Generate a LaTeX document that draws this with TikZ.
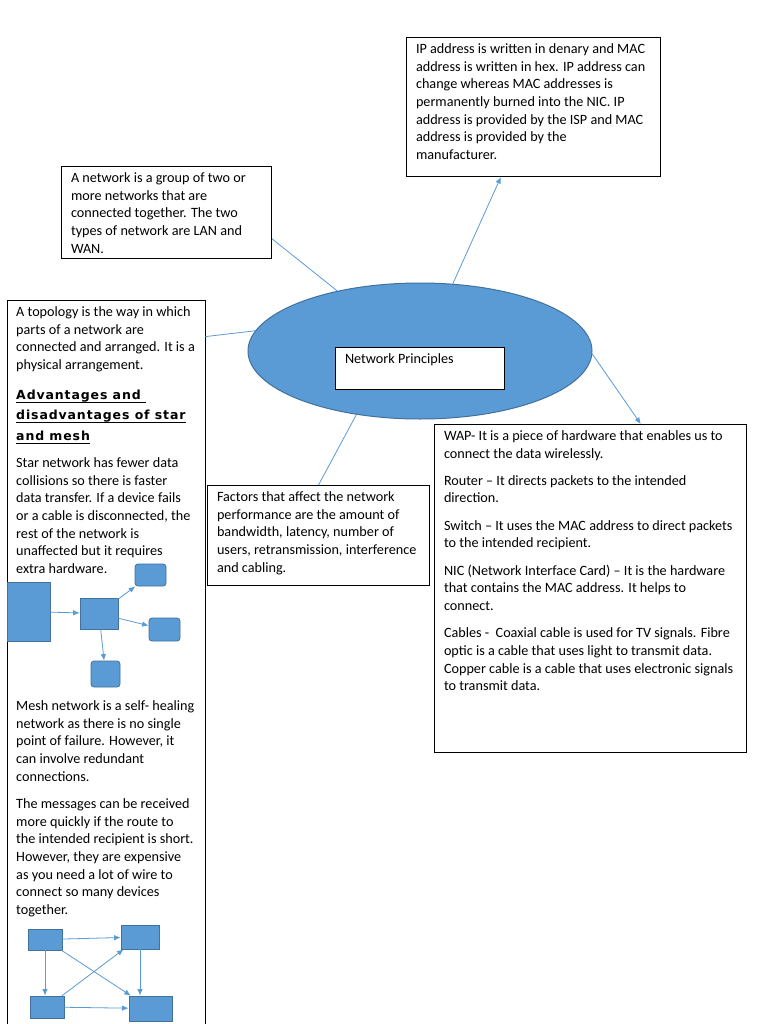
\documentclass[tikz,border=0pt]{standalone}
\usepackage{fontspec}
\setmainfont{Carlito}
\newfontfamily\headfont{DejaVu Sans}[LetterSpace=7.0]
\usepackage{tikz}
\usetikzlibrary{arrows}
\usetikzlibrary{arrows.meta}
\usetikzlibrary{shapes.geometric}

\definecolor{nodefill}{HTML}{5B9BD5}
\definecolor{nodeedge}{HTML}{41719C}
\definecolor{linkblue}{HTML}{5B9BD5}

\newcommand{\notetext}[3]{\parbox[t][#2][t]{#1}{\raggedright\setlength{\parskip}{9.5pt}#3}}
\newcommand{\hdline}[1]{\leavevmode\setbox0=\hbox{#1}\rlap{\rule[-3.6pt]{\wd0}{1.2pt}}\box0}

\tikzset{
  note/.style={draw, line width=1pt, fill=white, anchor=north west, inner xsep=9.5pt, inner ysep=6pt},
  plain/.style={anchor=north west, inner sep=0pt},
  device/.style={draw=nodeedge, fill=nodefill, line width=0.8pt, inner sep=0pt},
  pc/.style={device, rounded corners=3pt},
  link/.style={draw=linkblue, line width=0.8pt}
}

\begin{document}
\begin{tikzpicture}[x=1pt, y=-1pt, >={Latex[length=6.5pt,width=5.5pt]}, font=\fontsize{14.2}{17.7}\selectfont]
        \useasboundingbox[fill=white] (0,0) rectangle (768,1024);

        % the topic in the middle
        \node[draw=nodeedge, fill=nodefill, line width=1pt, ellipse, minimum width=344pt, minimum height=136pt, inner sep=0pt] at (420,351) (np){};
        \node[note] at (335,347) (npLabel){\notetext{150pt}{30pt}{Network Principles}};

        % notes round it
        \node[note] at (406,37) (ipmac){\notetext{235pt}{127pt}{IP address is written in denary and MAC\\ address is written in hex. IP address can\\ change whereas MAC addresses is\\ permanently burned into the NIC. IP\\ address is provided by the ISP and MAC\\ address is provided by the\\ manufacturer.}};
        \node[note] at (61,166) (netw){\notetext{191pt}{80pt}{A network is a group of two or\\ more networks that are\\ connected together. The two\\ types of network are LAN and\\ WAN.}};
        \node[note] at (207,485) (factors){\notetext{203pt}{88pt}{Factors that affect the network\\ performance are the amount of\\ bandwidth, latency, number of\\ users, retransmission, interference\\ and cabling.}};
        \node[note] at (434,424) (hw){\notetext{293pt}{316pt}{WAP- It is a piece of hardware that enables us to\\ connect the data wirelessly.\par
          Router – It directs packets to the intended\\ direction.\par
          Switch – It uses the MAC address to direct packets\\ to the intended recipient.\par
          NIC (Network Interface Card) – It is the hardware\\ that contains the MAC address. It helps to\\ connect.\par
          Cables - \ Coaxial cable is used for TV signals. Fibre\\ optic is a cable that uses light to transmit data.\\ Copper cable is a cable that uses electronic signals\\ to transmit data.}};

        % topology column
        \node[draw, line width=1pt, fill=white, anchor=north west, minimum width=198pt, minimum height=740pt] at (7,300) (topo){};
        \node[plain] at (16,306.4) (topoTxt){\notetext{189pt}{60pt}{A topology is the way in which\\ parts of a network are\\ connected and arranged. It is a\\ physical arrangement.}};
        \node[plain] at (16,389.5) (advTxt){\notetext{189pt}{50pt}{\fontsize{12.5}{20.5}\selectfont\headfont\bfseries \hdline{Advantages and\ }\\ \hdline{disadvantages of star}\\ \hdline{and mesh}}};
        \node[plain] at (16,457.4) (starTxt){\notetext{189pt}{110pt}{Star network has fewer data\\ collisions so there is faster\\ data transfer. If a device fails\\ or a cable is disconnected, the\\ rest of the network is\\ unaffected but it requires\\ extra hardware.}};
        \node[plain] at (16,700.4) (meshTxt){\notetext{189pt}{210pt}{Mesh network is a self- healing\\ network as there is no single\\ point of failure. However, it\\ can involve redundant\\ connections.\par
          The messages can be received\\ more quickly if the route to\\ the intended recipient is short.\\ However, they are expensive\\ as you need a lot of wire to\\ connect so many devices\\ together.}};

        % star
        \node[device, minimum width=43pt, minimum height=59pt] at (28.5,611.5) (s0){};
        \node[device, minimum width=38pt, minimum height=31pt] at (99,613.5) (hub){};
        \node[pc, minimum width=31pt, minimum height=22pt] at (150.5,575) (s1){};
        \node[pc, minimum width=31pt, minimum height=23pt] at (164.5,629.5) (s2){};
        \node[pc, minimum width=29pt, minimum height=26pt] at (105.5,674) (s3){};
        \draw[link,->] (s0) -- (hub);
        \draw[link,->] (hub) -- (s1);
        \draw[link,->] (hub) -- (s2);
        \draw[link,->] (hub) -- (s3);

        % mesh
        \node[device, minimum width=34pt, minimum height=21pt] at (45,939.5) (m1){};
        \node[device, minimum width=38pt, minimum height=24pt] at (140,937) (m2){};
        \node[device, minimum width=34pt, minimum height=22pt] at (47,1007) (m3){};
        \node[device, minimum width=43pt, minimum height=25pt] at (150.5,1008.5) (m4){};
        \draw[link,->] (m1) -- (m2);
        \draw[link,->] (m1) -- (m4);
        \draw[link,->] (m3) -- (m2);
        \draw[link,->] (m3) -- (m4);
        \draw[link,->] (m1.south) -- (m1.south |- m3.north);
        \draw[link,->] (m2.south) -- (m2.south |- m4.north);

        % links to the topic
        \draw[link] (netw.-14) -- (np.144);
        \draw[link] (topoTxt.east) -- (np.173);
        \draw[link,->] (np.64) -- (ipmac.-115);
        \draw[link,->] (np.-1) -- (hw.73);
        \draw[link] (np.-135) -- (factors.north);
\end{tikzpicture}
\end{document}
